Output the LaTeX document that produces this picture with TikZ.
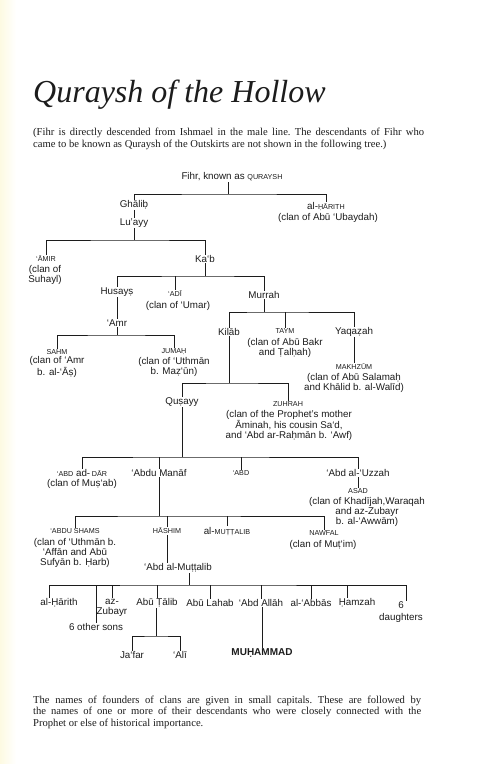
\documentclass[tikz,border=0pt]{standalone}
\usepackage{fontspec}
\setmainfont{Liberation Serif}
\newfontfamily\treefont{Liberation Sans}
\usepackage{xcolor}
\usetikzlibrary{positioning}
\definecolor{inkBlack}{HTML}{1C1C1C}
\definecolor{pageCream}{HTML}{FDFAE2}
\newcommand{\clansc}[1]{{\fontsize{7.2}{8}\selectfont #1}}

\begin{document}
\begin{tikzpicture}[x=1pt,y=-1pt,
    nm/.style={font=\treefont\fontsize{9.8}{10}\selectfont,text=inkBlack,
               inner sep=0.6pt},
    info/.style={nm,align=center},
    lnk/.style={draw=inkBlack,line width=0.6pt},
    headline/.style={font=\fontsize{32}{36}\selectfont\itshape,text=inkBlack,
                     inner sep=0pt},
    para/.style={font=\fontsize{10.6}{11.6}\selectfont\frenchspacing,text=inkBlack,
                 text width=391pt,align=justify,inner sep=0pt}
  ]
  % Page
  \fill[white] (0,0) rectangle (491,764);
  \shade[left color=pageCream,right color=white] (0,0) rectangle (16,764);
  \useasboundingbox (0,0) rectangle (491,764);
  % Title and notes
  \node[headline,anchor=base west] (title) at (33,102) {Quraysh of the Hollow};
  \node[para,anchor=north west] (intro) at (33,128)
    {(Fihr is directly descended from Ishmael in the male line. The descendants of Fihr who\linebreak
     came to be known as Quraysh of the Outskirts are not shown in the following tree.)};
  \node[para,anchor=north west,text width=388pt] (footnote) at (33,695.5)
    {The names of founders of clans are given in small capitals. These are followed by\linebreak
     the names of one or more of their descendants who were closely connected with the\linebreak
     Prophet or else of historical importance.};
  % Fihr
  \node[nm] (fihr) at (232,177) {Fihr, known as \clansc{QURAYSH}};
  \coordinate (j1) at (228,194);
  \node[nm] (ghalib) at (134,205) {Ghāliḅ};
  \node[nm] (harith) at (326,206.5) {al-\clansc{ḤĀRITH}};
  \node[nm] (harithinfo) at (328,218) {(clan of Abū ‘Ubaydah)};
  \draw[lnk] (fihr.south -| j1) -- (j1);
  \draw[lnk] (ghalib) |- (j1) -| (harith);
  % Lu'ayy
  \node[nm] (luayy) at (134,223) {Lu’ayy};
  \draw[lnk] (ghalib) -- (luayy);
  \coordinate (j2) at (134,240);
  \node[nm] (amir) at (46,259) {\clansc{‘ĀMIR}};
  \node[info] (amirinfo) at (45,275) {(clan of\\Suhayl)};
  \node[nm] (kab) at (205,259) {Ka‘b};
  \draw[lnk] (luayy) -- (j2);
  \draw[lnk] (amir) |- (j2) -| (kab);
  % Ka'b
  \coordinate (j3) at (205,276);
  \node[nm] (husays) at (117,292) {Husayṣ};
  \node[nm] (adi) at (175,294) {\clansc{‘ADĪ}};
  \node[nm] (adiinfo) at (178,306) {(clan of ‘Umar)};
  \node[nm] (murrah) at (264,295) {Murrah};
  \draw[lnk] (kab) -- (j3);
  \draw[lnk] (husays) |- (j3) -| (murrah);
  \draw[lnk] (adi) -- (adi |- j3);
  % Husays
  \node[nm] (amr) at (117,323) {‘Amr};
  \draw[lnk] (husays) -- (amr);
  \coordinate (j4) at (117,335);
  \node[nm] (sahm) at (57,352) {\clansc{SAHM}};
  \node[info] (sahminfo) at (57,367) {(clan of ‘Amr\\b. al-‘Āṣ)};
  \node[nm] (jumah) at (174,352) {\clansc{JUMAḤ}};
  \node[info] (jumahinfo) at (174,367) {(clan of ‘Uthmān\\b. Maẓ‘ūn)};
  \draw[lnk] (amr) -- (j4);
  \draw[lnk] (sahm) |- (j4) -| (jumah);
  % Murrah
  \coordinate (j5) at (264,312);
  \node[nm] (kilab) at (229,332) {Kilāb};
  \node[nm] (taym) at (285,331) {\clansc{TAYM}};
  \node[info] (tayminfo) at (285,348) {(clan of Abū Bakr\\and Ṭalḥah)};
  \node[nm] (yaqazah) at (354,332) {Yaqaẓah};
  \draw[lnk] (murrah) -- (j5);
  \draw[lnk] (kilab) |- (j5) -| (yaqazah);
  \draw[lnk] (taym) -- (taym |- j5);
  \node[nm] (makhzum) at (354,366.5) {\clansc{MAKHZŪM}};
  \node[info] (makhzuminfo) at (354,383) {(clan of Abū Salamaḥ\\and Khālid b. al-Walīd)};
  \draw[lnk] (yaqazah) -- (makhzum);
  % Kilab
  \coordinate (j6) at (229,383);
  \node[nm] (qusayy) at (182,402) {Quṣayy};
  \node[nm] (zuhrah) at (288,404) {\clansc{ZUHRAH}};
  \node[info] (zuhrahinfo) at (289,425.5)
    {(clan of the Prophet’s mother\\Āminah, his cousin Sa‘d,\\and ‘Abd ar-Raḥmān b. ‘Awf)};
  \draw[lnk] (kilab) -- (j6);
  \draw[lnk] (qusayy) |- (j6) -| (zuhrah);
  % Qusayy
  \coordinate (j7) at (182,457);
  \node[nm] (abddar) at (82,473) {\clansc{‘ABD} ad-\,\clansc{DĀR}};
  \node[nm] (abddarinfo) at (82,483.5) {(clan of Muṣ‘ab)};
  \node[nm] (abdumanaf) at (159,473) {‘Abdu Manāf};
  \node[nm] (abd) at (241,473) {\clansc{‘ABD}};
  \node[nm] (uzzah) at (358,473) {‘Abd al-‘Uzzah};
  \draw[lnk] (qusayy) -- (j7);
  \draw[lnk] (abddar) |- (j7) -| (uzzah);
  \foreach \kid in {abdumanaf,abd}
    \draw[lnk] (\kid) -- (\kid |- j7);
  \node[nm] (asad) at (358,491) {\clansc{ASAD}};
  \node[info] (asadinfo) at (367,512)
    {(clan of Khadījah,Waraqah\\and az-Zubayr\\b. al-‘Awwām)};
  \draw[lnk] (uzzah) -- (asad);
  % Abdu Manaf
  \coordinate (j8) at (159,516);
  \node[nm] (abdushams) at (75,531) {\clansc{‘ABDU SHAMS}};
  \node[info] (abdushamsinfo) at (75,552.5)
    {(clan of ‘Uthmān b.\\‘Affān and Abū\\Sufyān b. Ḥarb)};
  \node[nm] (hashim) at (167,531) {\clansc{HĀSHIM}};
  \node[nm] (muttalib) at (227,531) {al-\clansc{MUṬṬALIB}};
  \node[nm] (nawfal) at (324,533.5) {\clansc{NAWFAL}};
  \node[nm] (nawfalinfo) at (323,545) {(clan of Muṭ‘im)};
  \draw[lnk] (abdumanaf) -- (j8);
  \draw[lnk] (abdushams) |- (j8) -| (nawfal);
  \foreach \kid in {hashim,muttalib}
    \draw[lnk] (\kid) -- (\kid |- j8);
  \node[nm] (abdmuttalib) at (178,568) {‘Abd al-Muṭṭalib};
  \draw[lnk] (hashim) -- (hashim |- abdmuttalib.north);
  % Abd al-Muttalib
  \coordinate (j9) at (189,585);
  \node[nm] (harithson) at (59,603) {al-Ḥārith};
  \node[nm] (sons) at (96,627) {6 other sons};
  \node[info] (zubayr) at (112,607.5) {az-\\Zubayr};
  \node[nm] (abutalib) at (157,603) {Abū Ṭālib};
  \node[nm] (abulahab) at (210,603) {Abū Lahab};
  \node[nm] (abdallah) at (261,603) {‘Abd Allāh};
  \node[nm] (abbas) at (311,603) {al-‘Abbās};
  \node[nm] (hamzah) at (357,603) {Ḥamzah};
  \node[info] (daughters) at (401,612) {6\\[2pt]daughters};
  \draw[lnk] (abdmuttalib.south -| j9) -- (j9);
  \draw[lnk] ([xshift=-10pt]harithson.north) |- (j9) -| ([xshift=5pt]daughters.north);
  \foreach \kid in {sons,zubayr,abutalib,abulahab,abdallah,abbas}
    \draw[lnk] (\kid) -- (\kid |- j9);
  \draw[lnk] ([xshift=-10pt]hamzah.north) -- ([xshift=-10pt]hamzah.north |- j9);
  % Abu Talib and 'Abd Allah
  \coordinate (j10) at (156,636);
  \node[nm] (jafar) at (132,655) {Ja‘far};
  \node[nm] (ali) at (180,655) {‘Alī};
  \node[nm,font=\treefont\bfseries\fontsize{10}{10}\selectfont] (muhammad) at (262,653) {MUḤAMMAD};
  \draw[lnk] (abutalib.south -| j10) -- (j10);
  \draw[lnk] (jafar) |- (j10) -| (ali);
  \draw[lnk] (abdallah.south -| muhammad) -- (muhammad);
\end{tikzpicture}
\end{document}
